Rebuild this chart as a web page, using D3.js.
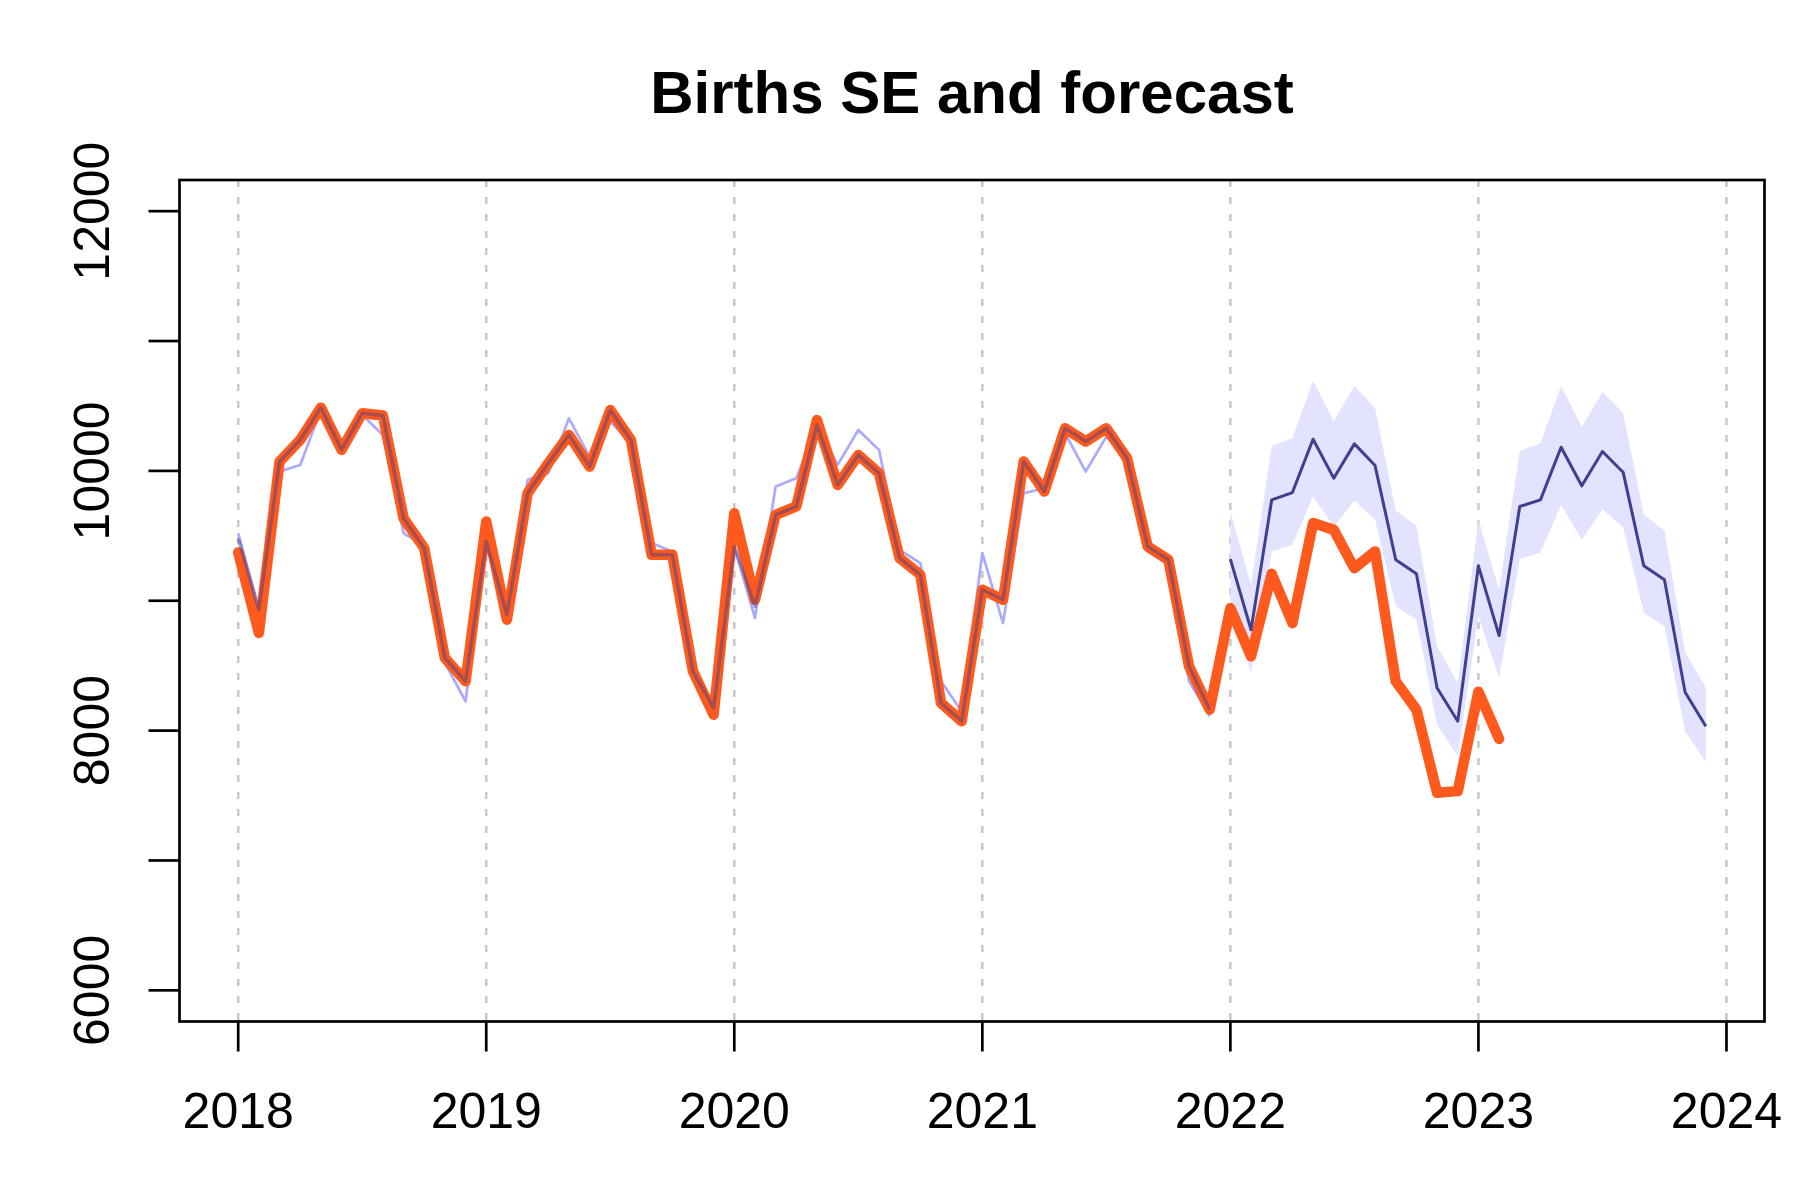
<!DOCTYPE html>
<html>
<head>
<meta charset="utf-8">
<script src="https://cdn.jsdelivr.net/npm/d3@7/dist/d3.min.js"></script>
<style>
  html, body { margin: 0; padding: 0; background: #fff; }
  svg { display: block; }
</style>
</head>
<body>
<div id="chart"></div>
<script>
// ---------------- DATA ----------------
const chartTitle = "Births SE and forecast";
const startYear = 2018;

// Observed births (orange), monthly from Jan 2018 to Feb 2023
const observed = [
  9372, 8752, 10072, 10239, 10487, 10162, 10444, 10426, 9636, 9405, 8559, 8380,
  9610, 8854, 9828, 10059, 10277, 10033, 10469, 10238, 9354, 9354, 8457, 8123,
  9674, 9008, 9662, 9726, 10392, 9892, 10123, 9982, 9328, 9200, 8213, 8072,
  9085, 9008, 10072, 9841, 10328, 10226, 10328, 10098, 9418, 9316, 8495, 8162,
  8944, 8572, 9208, 8828, 9598, 9546, 9251, 9380, 8380, 8162, 7521, 7534,
  8300, 7936
];

// Training series (dark), Jan 2018 to Dec 2021
const history = [
  9480, 8931, 10072, 10239, 10487, 10162, 10444, 10426, 9636, 9405, 8559, 8380,
  9457, 8892, 9828, 10059, 10277, 10033, 10469, 10238, 9354, 9354, 8457, 8175,
  9418, 8957, 9662, 9726, 10354, 9892, 10123, 9982, 9328, 9200, 8213, 8072,
  9085, 9008, 10072, 9841, 10328, 10226, 10328, 10098, 9418, 9316, 8495, 8162
];

// Fitted values (light blue), Jan 2018 to Dec 2021
const fitted = [
  9521, 8931, 9995, 10046, 10470, 10170, 10430, 10277, 9521, 9420, 8521, 8226,
  9457, 8880, 9931, 9982, 10405, 10110, 10380, 10213, 9444, 9380, 8470, 8175,
  9418, 8867, 9880, 9944, 10354, 10046, 10315, 10162, 9392, 9290, 8380, 8149,
  9367, 8828, 9828, 9867, 10290, 9995, 10264, 10098, 9380, 9277, 8380, 8110
];

// Forecast, Jan 2022 to Dec 2023
const forecastMean = [
  9321, 8777, 9777, 9833, 10244, 9944, 10208, 10041, 9316, 9208, 8328, 8072,
  9269, 8731, 9726, 9777, 10182, 9885, 10149, 9990, 9269, 9162, 8295, 8033
];
const forecastUpper = [
  9687, 9123, 10192, 10251, 10695, 10380, 10656, 10482, 9695, 9577, 8649, 8367,
  9623, 9085, 10154, 10213, 10654, 10336, 10610, 10444, 9662, 9541, 8603, 8336
];
const forecastLower = [
  8955, 8440, 9380, 9431, 9803, 9572, 9772, 9623, 8957, 8854, 8046, 7803,
  8880, 8405, 9321, 9372, 9739, 9469, 9705, 9567, 8905, 8803, 7995, 7757
];
const forecastStart = 2022;

const xTicks = [2018, 2019, 2020, 2021, 2022, 2023, 2024];
const yTicks = [6000, 7000, 8000, 9000, 10000, 11000, 12000];
const yTickLabels = [6000, 8000, 10000, 12000];
const yLimits = [6000, 12000];

// ---------------- LAYOUT ----------------
const W = 1800, H = 1200;
const plot = { left: 179.5, right: 1764.5, top: 180, bottom: 1021.5 };

const toSeries = (arr, y0) => arr.map((v, i) => ({ t: y0 + i / 12, v }));
const obsS = toSeries(observed, startYear);
const histS = toSeries(history, startYear);
const fitS = toSeries(fitted, startYear);
const fcS = forecastMean.map((v, i) => ({ t: forecastStart + i / 12, v, lo: forecastLower[i], hi: forecastUpper[i] }));

// R-style 4% expansion of the data range
const tMin = startYear, tMax = forecastStart + (forecastMean.length - 1) / 12;
const padX = (tMax - tMin) * 0.04;
const padY = (yLimits[1] - yLimits[0]) * 0.04;

const x = d3.scaleLinear().domain([tMin - padX, tMax + padX]).range([plot.left, plot.right]);
const y = d3.scaleLinear().domain([yLimits[0] - padY, yLimits[1] + padY]).range([plot.bottom, plot.top]);

const svg = d3.select("#chart").append("svg").attr("width", W).attr("height", H);
const font = "'Liberation Sans', Arial, Helvetica, sans-serif";

// title
svg.append("text")
  .attr("x", (plot.left + plot.right) / 2).attr("y", 113)
  .attr("text-anchor", "middle")
  .attr("font-family", font).attr("font-weight", "bold").attr("font-size", 60)
  .text(chartTitle);

// grid
svg.append("g").selectAll("line").data(xTicks).join("line")
  .attr("x1", d => x(d)).attr("x2", d => x(d))
  .attr("y1", plot.top).attr("y2", plot.bottom)
  .attr("stroke", "#c8c8c8").attr("stroke-width", 2.5)
  .attr("stroke-dasharray", "7,10");

// band
const area = d3.area().x(d => x(d.t)).y0(d => y(d.lo)).y1(d => y(d.hi));
svg.append("path").datum(fcS).attr("d", area).attr("fill", "#e3e3ff");

const line = d3.line().x(d => x(d.t)).y(d => y(d.v));

// fitted
svg.append("path").datum(fitS).attr("d", line)
  .attr("fill", "none").attr("stroke", "#aaaaff").attr("stroke-width", 2.7)
  .attr("stroke-linejoin", "round");

// observed
svg.append("path").datum(obsS).attr("d", line)
  .attr("fill", "none").attr("stroke", "#ff5a1e").attr("stroke-width", 10.5)
  .attr("stroke-linejoin", "round").attr("stroke-linecap", "round");

// history (translucent dark)
svg.append("path").datum(histS).attr("d", line)
  .attr("fill", "none").attr("stroke", "#3c3c8c").attr("stroke-opacity", 0.45)
  .attr("stroke-width", 3.5).attr("stroke-linejoin", "round");

// forecast mean
svg.append("path").datum(fcS).attr("d", line)
  .attr("fill", "none").attr("stroke", "#3f3f8f").attr("stroke-width", 3)
  .attr("stroke-linejoin", "round");

// box
svg.append("rect")
  .attr("x", plot.left).attr("y", plot.top)
  .attr("width", plot.right - plot.left).attr("height", plot.bottom - plot.top)
  .attr("fill", "none").attr("stroke", "#000").attr("stroke-width", 2.7);

// x axis
const xAxis = svg.append("g");
xAxis.selectAll("line").data(xTicks).join("line")
  .attr("x1", d => x(d)).attr("x2", d => x(d))
  .attr("y1", plot.bottom).attr("y2", plot.bottom + 30)
  .attr("stroke", "#000").attr("stroke-width", 2.7);
xAxis.selectAll("text").data(xTicks).join("text")
  .attr("x", d => x(d)).attr("y", 1128)
  .attr("text-anchor", "middle")
  .attr("font-family", font).attr("font-size", 50)
  .text(d => d);

// y axis
const yAxis = svg.append("g");
yAxis.selectAll("line").data(yTicks).join("line")
  .attr("x1", plot.left - 31).attr("x2", plot.left)
  .attr("y1", d => y(d)).attr("y2", d => y(d))
  .attr("stroke", "#000").attr("stroke-width", 2.7);
yAxis.selectAll("text").data(yTickLabels).join("text")
  .attr("transform", d => `translate(109,${y(d)}) rotate(-90)`)
  .attr("text-anchor", "middle")
  .attr("font-family", font).attr("font-size", 50)
  .text(d => d);
</script>
</body>
</html>
